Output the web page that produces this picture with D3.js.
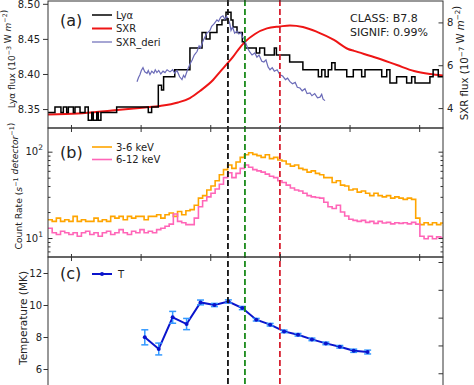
<!DOCTYPE html>
<html>
<head>
<meta charset="utf-8">
<script src="https://cdn.jsdelivr.net/npm/d3@7"></script>
<style>
  body { margin: 0; background: #fff; }
  text { font-family: "DejaVu Sans", sans-serif; fill: #222; }
</style>
</head>
<body>
<div id="chart"></div>
<script>
// time in minutes, x grid ticks every 5 min
const xTicks = [5, 10, 15, 20, 25, 30];
const markTimes = [16.27, 17.49, 20.0];
const markColors = ["#111", "#1a8a1a", "#d62030"];

// Lya flux, steps [time, value]
const lyaSteps = [
  [3.35,8.345],[3.85,8.353],[4.28,8.345],[4.45,8.353],[4.69,8.345],[4.81,8.353],[5.17,8.345],[5.29,8.353],
  [5.65,8.345],[6.01,8.353],[6.24,8.334],[6.49,8.345],[6.6,8.334],[6.85,8.345],[6.96,8.334],[7.15,8.345],
  [8.28,8.353],[10.55,8.345],[10.79,8.353],[11.27,8.384],[11.5,8.377],[11.65,8.396],[12.45,8.406],[13.54,8.437],
  [14.41,8.459],[14.7,8.45],[14.98,8.459],[15.48,8.47],[15.84,8.477],[16.13,8.488],[16.49,8.477],[16.63,8.467],
  [16.92,8.459],[17.3,8.446],[17.5,8.437],[18.3,8.43],[18.55,8.437],[18.9,8.427],[19.6,8.437],[19.75,8.427],
  [20.7,8.417],[21.65,8.406],[22.76,8.396],[23.0,8.406],[23.24,8.396],[23.47,8.406],[23.72,8.416],[23.96,8.406],
  [24.8,8.396],[25.27,8.406],[25.87,8.396],[26.11,8.406],[27.31,8.396],[27.67,8.406],[27.9,8.387],[28.38,8.396],
  [29.1,8.387],[29.46,8.396],[29.7,8.387],[30.77,8.396],[31.0,8.406],[31.37,8.396],[31.71,8.396]
];

// SXR flux (1e-7 W m-2)
const sxr = [
  [3.35,3.70],[5.5,3.75],[7.94,3.89],[10.31,4.03],[11.39,4.10],[12.68,4.26],[13.54,4.47],[14.26,4.80],
  [15.2,5.31],[15.7,5.69],[16.2,6.06],[16.63,6.39],[16.99,6.71],[17.49,7.09],[18.21,7.46],[19.07,7.72],
  [20.0,7.81],[20.72,7.86],[21.65,7.79],[22.66,7.56],[23.88,7.18],[24.89,6.76],[25.32,6.67],[26.97,6.34],
  [28.4,6.01],[29.63,5.73],[30.77,5.59],[31.71,5.52]
];

// SXR derivative, on the Lya axis
const sxrDeri = [
  [9.74,8.389],[9.85,8.395],[9.95,8.399],[10.05,8.405],[10.17,8.409],[10.3,8.403],[10.46,8.401],[10.55,8.405],
  [10.67,8.399],[10.8,8.404],[10.95,8.401],[11.05,8.406],[11.17,8.402],[11.3,8.405],[11.45,8.400],[11.61,8.404],
  [11.75,8.402],[11.9,8.406],[12.11,8.403],[12.3,8.406],[12.45,8.401],[12.61,8.405],[12.8,8.396],[12.97,8.392],
  [13.08,8.398],[13.18,8.395],[13.35,8.405],[13.54,8.414],[13.7,8.42],[13.85,8.427],[14.05,8.432],[14.2,8.44],
  [14.3,8.437],[14.48,8.447],[14.6,8.452],[14.75,8.458],[14.98,8.462],[15.1,8.468],[15.3,8.472],[15.48,8.477],
  [15.6,8.475],[15.75,8.481],[15.91,8.483],[16.05,8.478],[16.17,8.482],[16.27,8.479],[16.4,8.472],[16.49,8.462],
  [16.6,8.467],[16.75,8.458],[16.92,8.461],[17.05,8.457],[17.2,8.459],[17.32,8.452],[17.42,8.451],[17.55,8.444],
  [17.7,8.436],[17.85,8.431],[18.0,8.427],[18.2,8.43],[18.35,8.424],[18.5,8.427],[18.7,8.418],[18.85,8.417],
  [19.0,8.42],[19.15,8.41],[19.29,8.406],[19.45,8.409],[19.6,8.404],[19.8,8.406],[20.0,8.399],[20.2,8.397],
  [20.4,8.392],[20.55,8.394],[20.72,8.389],[20.9,8.386],[21.1,8.388],[21.25,8.381],[21.44,8.38],[21.6,8.376],
  [21.8,8.379],[21.95,8.372],[22.16,8.373],[22.3,8.369],[22.5,8.372],[22.7,8.366],[22.88,8.367],[23.0,8.371],
  [23.1,8.364],[23.24,8.362]
];

// count rates, bins of 0.3 min starting at 3.35
const binStart = 3.35, binWidth = 0.3;
const rate36 = [
  16.3,15.6,17.0,15.6,16.3,15.6,17.8,15.6,16.3,15.6,
  15.6,17.0,15.6,16.3,15.6,17.8,17.0,17.8,16.3,17.8,
  17.0,17.8,17.8,16.3,17.8,17.8,18.6,17.0,18.6,19.5,
  17.8,20.3,18.6,20.7,21.3,24,29,31,36,40,
  46,54,62,70,64,76,86,92,97,93,
  90,86,92,83,86,80,78,72,68,70,
  64,62,58,60,56,54,50,50,44,46,
  41,40,36,37,34,35,33,31,33,31,
  30,31,29,30,29,28,29,28,17,14.3,
  15,14.3,15,14.3,14.9
];
const rate612 = [
  13.0,11.5,11.0,12.0,11.5,11.0,11.5,10.5,11.5,12.0,
  11.0,11.5,10.5,11.5,12.0,11.0,11.5,12.5,11.5,11.0,
  12.0,11.5,12.5,11.5,12.0,11.5,12.5,13.0,13.7,14.5,
  19.0,15.6,15.0,14.3,14.3,17,23,27,30,33,
  37,42,50,57,50,56,64,70,66,62,
  60,58,55,52,50,46,44,41,38,36,
  35,33,31,30,29.5,29,26,23,22,24,
  20,18,16.5,16,15.6,16,15.2,15.6,14.8,15.6,
  14.9,15.2,14.6,15,14.8,15,14.6,15.2,14.5,10.5,
  9.8,10.5,9.8,10.3,10.0
];

// temperature (MK)
const tempTime = [10.3,11.3,12.3,13.3,14.3,15.3,16.3,17.3,18.3,19.3,20.3,21.3,22.3,23.3,24.3,25.3,26.3];
const tempVal  = [7.98,7.25,9.23,8.81,10.16,10.0,10.22,9.81,9.08,8.77,8.35,8.14,7.85,7.6,7.39,7.14,7.06];
const tempErr  = [0.47,0.37,0.37,0.35,0.15,0.1,0.1,0.1,0.08,0.08,0.08,0.08,0.08,0.08,0.08,0.1,0.12];

const W = 474, H = 385, L = 48, R = 443;
const pA = [1, 128], pB = [128, 257], pC = [257, 393];
const frame = "#333";

const svg = d3.select("#chart").append("svg")
  .attr("width", W).attr("height", H);

const x = d3.scaleLinear().domain([3.35, 31.71]).range([L, R]);
const yA = d3.scaleLinear().domain([8.323, 8.504]).range([pA[1], pA[0]]);
const yA2 = d3.scaleLinear().domain([3.07, 9.0]).range([pA[1], pA[0]]);
const yB = d3.scaleLog().domain([6.03, 188]).range([pB[1], pB[0]]);
const yC = d3.scaleLinear().domain([4.5, 13]).range([pC[1], pC[0]]);
const yC2 = d3.scaleLinear().domain([0.29, 5.18]).range([pC[1], pC[0]]);

// clip paths per panel
const defs = svg.append("defs");
[["ca", pA], ["cb", pB], ["cc", pC]].forEach(([id, p]) => {
  defs.append("clipPath").attr("id", id).append("rect")
    .attr("x", L).attr("y", p[0]).attr("width", R - L).attr("height", p[1] - p[0]);
});

const gA = svg.append("g").attr("clip-path", "url(#ca)");
const gB = svg.append("g").attr("clip-path", "url(#cb)");
const gC = svg.append("g").attr("clip-path", "url(#cc)");

// panel (a)
gA.append("path").datum(sxr)
  .attr("fill", "none").attr("stroke", "#ee1515").attr("stroke-width", 2)
  .attr("d", d3.line().x(d => x(d[0])).y(d => yA2(d[1])).curve(d3.curveMonotoneX));
gA.append("path").datum(lyaSteps)
  .attr("fill", "none").attr("stroke", "#000").attr("stroke-width", 1.5)
  .attr("d", d3.line().x(d => x(d[0])).y(d => yA(d[1])).curve(d3.curveStepAfter));
gA.append("path").datum(sxrDeri)
  .attr("fill", "none").attr("stroke", "#6b6bb8").attr("stroke-width", 1.2)
  .attr("d", d3.line().x(d => x(d[0])).y(d => yA(d[1])));

// panel (b)
function rateLine(vals) {
  const pts = vals.map((v, i) => [binStart + i * binWidth, v]);
  pts.push([binStart + vals.length * binWidth, vals[vals.length - 1]]);
  return d3.line().x(d => x(d[0])).y(d => yB(d[1])).curve(d3.curveStepAfter)(pts);
}
gB.append("path").attr("d", rateLine(rate36))
  .attr("fill", "none").attr("stroke", "#ffa500").attr("stroke-width", 1.6);
gB.append("path").attr("d", rateLine(rate612))
  .attr("fill", "none").attr("stroke", "#ff66b8").attr("stroke-width", 1.6);

// panel (c)
const temps = tempTime.map((t, i) => ({ t, v: tempVal[i], e: tempErr[i] }));
gC.append("path").datum(temps)
  .attr("fill", "none").attr("stroke", "#0a14cc").attr("stroke-width", 2)
  .attr("d", d3.line().x(d => x(d.t)).y(d => yC(d.v)));
const eb = gC.selectAll(".eb").data(temps).enter().append("g")
  .attr("stroke", "#3399ff").attr("stroke-width", 1.5);
eb.append("line").attr("x1", d => x(d.t)).attr("x2", d => x(d.t))
  .attr("y1", d => yC(d.v - d.e)).attr("y2", d => yC(d.v + d.e));
eb.append("line").attr("x1", d => x(d.t) - 3.5).attr("x2", d => x(d.t) + 3.5)
  .attr("y1", d => yC(d.v - d.e)).attr("y2", d => yC(d.v - d.e));
eb.append("line").attr("x1", d => x(d.t) - 3.5).attr("x2", d => x(d.t) + 3.5)
  .attr("y1", d => yC(d.v + d.e)).attr("y2", d => yC(d.v + d.e));
gC.selectAll(".dot").data(temps).enter().append("circle")
  .attr("cx", d => x(d.t)).attr("cy", d => yC(d.v)).attr("r", 2).attr("fill", "#0a14cc");

// vertical dashed markers across all panels
svg.selectAll(".mark").data(markTimes).enter().append("line")
  .attr("x1", d => x(d)).attr("x2", d => x(d))
  .attr("y1", 0).attr("y2", H)
  .attr("stroke", (d, i) => markColors[i]).attr("stroke-width", 1.8)
  .attr("stroke-dasharray", "6,3");

// frames
[pA, pB, pC].forEach(p => {
  svg.append("rect").attr("x", L).attr("y", p[0]).attr("width", R - L).attr("height", p[1] - p[0])
    .attr("fill", "none").attr("stroke", frame).attr("stroke-width", 1);
});

function styleAxis(g) {
  g.select(".domain").remove();
  g.selectAll("line").attr("stroke", frame);
  g.selectAll("text").attr("font-size", 10).attr("fill", "#222")
    .attr("font-family", '"DejaVu Sans", sans-serif');
}

// x ticks at panel boundaries
[pA[1], pB[1]].forEach(yb => {
  svg.append("g").attr("transform", `translate(0,${yb - 3})`)
    .call(d3.axisBottom(x).tickValues(xTicks).tickSize(7).tickFormat(""))
    .call(styleAxis);
});

// left axes
svg.append("g").attr("transform", `translate(${L},0)`)
  .call(d3.axisLeft(yA).tickValues([8.35, 8.40, 8.45, 8.50]).tickFormat(d3.format(".2f")).tickSize(5).tickPadding(3))
  .call(styleAxis);
const bMajor = svg.append("g").attr("transform", `translate(${L},0)`)
  .call(d3.axisLeft(yB).tickValues([10, 100]).tickSize(-4.5).tickPadding(5))
  .call(styleAxis);
bMajor.selectAll("text").each(function(d) {
  const t = d3.select(this);
  t.text("10");
  t.append("tspan").attr("dy", -5).attr("font-size", 7.5).text(Math.round(Math.log10(d)));
});
const minorB = [7, 8, 9, 20, 30, 40, 50, 60, 70, 80, 90];
svg.append("g").attr("transform", `translate(${L},0)`)
  .call(d3.axisLeft(yB).tickValues(minorB).tickSize(-2.5).tickFormat(""))
  .call(styleAxis);
svg.append("g").attr("transform", `translate(${L},0)`)
  .call(d3.axisLeft(yC).tickValues([6, 8, 10, 12]).tickSize(4.5).tickPadding(1.5))
  .call(styleAxis);

// right axes (inward ticks)
svg.append("g").attr("transform", `translate(${R},0)`)
  .call(d3.axisRight(yA2).tickValues([4, 6, 8]).tickFormat(d3.format("d")).tickSize(-4.5).tickPadding(4))
  .call(styleAxis);
svg.append("g").attr("transform", `translate(${R},0)`)
  .call(d3.axisRight(yB).tickValues([10, 100]).tickSize(-4.5).tickFormat(""))
  .call(styleAxis);
svg.append("g").attr("transform", `translate(${R},0)`)
  .call(d3.axisRight(yB).tickValues(minorB).tickSize(-2.5).tickFormat(""))
  .call(styleAxis);
svg.append("g").attr("transform", `translate(${R},0)`)
  .call(d3.axisRight(yC2).tickValues([1, 2, 3, 4, 5]).tickSize(-4.5).tickFormat(""))
  .call(styleAxis);

// axis titles
function sup(t, s) {
  t.append("tspan").attr("dy", -4).attr("font-size", "0.7em").text(s);
  t.append("tspan").attr("dy", 4).text("");
}

const tA = svg.append("text").attr("transform", "translate(15,59) rotate(-90)")
  .attr("text-anchor", "middle").attr("font-size", 9);
tA.append("tspan").text("Lyα flux (10");
sup(tA, "−3");
tA.append("tspan").text(" W ");
tA.append("tspan").attr("font-style", "italic").text("m");
sup(tA, "−2");
tA.append("tspan").text(")");

const tA2 = svg.append("text").attr("transform", "translate(468,63) rotate(-90)")
  .attr("text-anchor", "middle").attr("font-size", 10.2);
tA2.append("tspan").text("SXR flux (10");
sup(tA2, "−7");
tA2.append("tspan").text(" W ");
tA2.append("tspan").attr("font-style", "italic").text("m");
sup(tA2, "−2");
tA2.append("tspan").text(")");

const tB = svg.append("text").attr("transform", "translate(22,186) rotate(-90)")
  .attr("text-anchor", "middle").attr("font-size", 9.2);
tB.append("tspan").text("Count Rate (");
tB.append("tspan").attr("font-style", "italic").text("s");
sup(tB, "−1");
tB.append("tspan").attr("font-style", "italic").text(" detector");
sup(tB, "−1");
tB.append("tspan").text(")");

svg.append("text").attr("transform", "translate(27,318) rotate(-90)")
  .attr("text-anchor", "middle").attr("font-size", 10.5).text("Temperature (MK)");

// panel letters
svg.append("text").attr("x", 60).attr("y", 26).attr("font-size", 16).text("(a)");
svg.append("text").attr("x", 60).attr("y", 158).attr("font-size", 16).text("(b)");
svg.append("text").attr("x", 60).attr("y", 279).attr("font-size", 16).text("(c)");

// legends
const legA = [["Lyα", "#000", 1.5], ["SXR", "#ee1515", 2], ["SXR_deri", "#6b6bb8", 1.2]];
legA.forEach((d, i) => {
  const yy = 15 + i * 13.5;
  svg.append("line").attr("x1", 92).attr("x2", 112).attr("y1", yy).attr("y2", yy)
    .attr("stroke", d[1]).attr("stroke-width", d[2]);
  svg.append("text").attr("x", 116).attr("y", yy + 3.6).attr("font-size", 10).text(d[0]);
});
const legB = [["3-6 keV", "#ffa500"], ["6-12 keV", "#ff66b8"]];
legB.forEach((d, i) => {
  const yy = 147 + i * 12.5;
  svg.append("line").attr("x1", 92).attr("x2", 112).attr("y1", yy).attr("y2", yy)
    .attr("stroke", d[1]).attr("stroke-width", 1.6);
  svg.append("text").attr("x", 116).attr("y", yy + 3.6).attr("font-size", 10).text(d[0]);
});
svg.append("line").attr("x1", 92).attr("x2", 112).attr("y1", 274).attr("y2", 274)
  .attr("stroke", "#0a14cc").attr("stroke-width", 2);
svg.append("circle").attr("cx", 102).attr("cy", 274).attr("r", 2).attr("fill", "#0a14cc");
svg.append("text").attr("x", 118).attr("y", 277.6).attr("font-size", 10).text("T");

// flare info
svg.append("text").attr("x", 350).attr("y", 22).attr("font-size", 11).text("CLASS: B7.8");
svg.append("text").attr("x", 350).attr("y", 36).attr("font-size", 11).text("SIGNIF: 0.99%");
</script>
</body>
</html>
